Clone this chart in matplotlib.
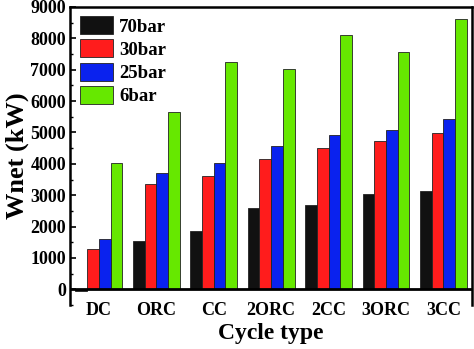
import numpy as np
import matplotlib.pyplot as plt
from matplotlib.ticker import MultipleLocator

plt.rcParams['font.family'] = ['Liberation Serif', 'DejaVu Serif']
plt.rcParams['font.weight'] = 'bold'

categories = ['DC', 'ORC', 'CC', '2ORC', '2CC', '3ORC', '3CC']
series_names = ['70bar', '30bar', '25bar', '6bar']
bar70 = [-40, 1540, 1850, 2600, 2690, 3040, 3150]
bar30 = [1300, 3370, 3620, 4160, 4520, 4720, 4980]
bar25 = [1610, 3710, 4040, 4570, 4930, 5070, 5440]
bar6 = [4030, 5650, 7260, 7020, 8120, 7570, 8620]
colors = ['#111111', '#ff1c1c', '#0a22ee', '#66e800']

fig = plt.figure(figsize=(4.74, 3.49), dpi=100)
ax = fig.add_axes([0.148, 0.126, 0.848, 0.854])

x = np.arange(len(categories))
w = 0.204
for i, (vals, name) in enumerate(zip([bar70, bar30, bar25, bar6], series_names)):
    ax.bar(x + (i - 1.5) * w, vals, w, color=colors[i], edgecolor='#222222',
           linewidth=0.6, label=name)

ax.axhline(0, color='black', lw=2, zorder=3)
ax.set_xlim(-0.5, 6.5)
ax.set_ylim(-500, 9000)
ax.yaxis.set_minor_locator(MultipleLocator(500))
ax.set_yticks(np.arange(0, 9001, 1000))
ax.set_xticks(x)
ax.set_xticklabels(categories)
ax.tick_params(axis='y', direction='in', length=4, width=1.2, labelsize=13, pad=3)
ax.tick_params(axis='y', which='minor', direction='in', length=2, width=1)
ax.tick_params(axis='x', length=0, labelsize=13, pad=-2)
ax.spines['bottom'].set_visible(False)
for s in ['left', 'top', 'right']:
    ax.spines[s].set_linewidth(1.8)

ax.set_ylabel('Wnet (kW)', fontsize=19, fontweight='bold', labelpad=1)
ax.set_xlabel('Cycle type', fontsize=17, fontweight='bold', labelpad=3)

leg = ax.legend(loc='upper left', frameon=False, fontsize=13.5, handlelength=1.8,
                handleheight=1.1, labelspacing=0.2, handletextpad=0.3,
                borderaxespad=0.1)

fig.savefig('out.png', dpi=100)
